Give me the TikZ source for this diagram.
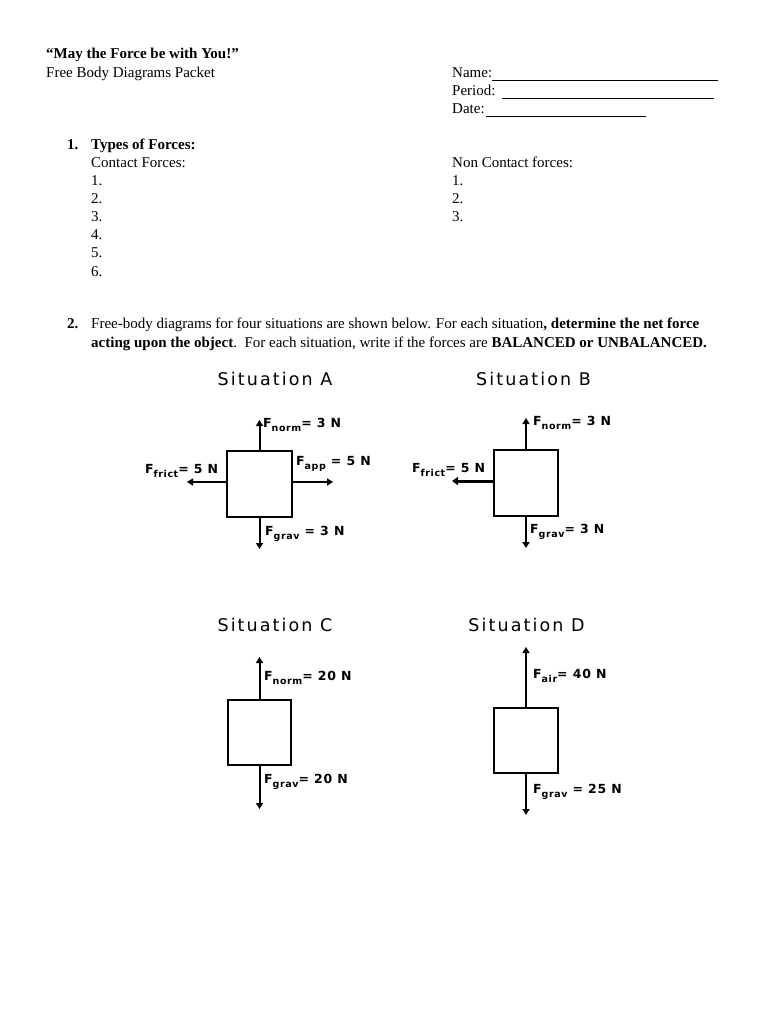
\documentclass[tikz,border=0pt]{standalone}
\usepackage{fontspec}
\setmainfont{Liberation Serif}
\newfontfamily\titlefont[LetterSpace=12]{DejaVu Sans}
\newfontfamily\lblfont[LetterSpace=6]{DejaVu Sans}
\usetikzlibrary{arrows.meta}
\newcommand{\flab}[3]{{\lblfont\bfseries\fontsize{12.5}{13}\selectfont #1\raisebox{-4pt}{\fontsize{9.5}{10}\selectfont #2}#3}}
\tikzset{
  txt/.style={anchor=base west, inner sep=0pt, font=\fontsize{15}{17}\selectfont},
  ttl/.style={inner sep=0pt, font=\titlefont\fontsize{17.5}{19}\selectfont},
  lbl/.style={anchor=base west, inner sep=0pt},
  fbox/.style={draw, line width=2.8pt, inner sep=0pt},
  farrow/.style={line width=2pt, -{Triangle[length=6pt,width=7pt]}},
  farrowthick/.style={line width=3pt, -{Triangle[length=6pt,width=8pt]}},
  uline/.style={line width=0.8pt}
}
\begin{document}
\begin{tikzpicture}[x=1pt,y=-1pt]
\useasboundingbox (0,0) rectangle (768,1024);
\fill[white] (0,0) rectangle (768,1024);
% header
\node[txt] (t1) at (46,59) {\textbf{“May the Force be with You!”}};
\node[txt] (t2) at (46,78) {Free Body Diagrams Packet};
\node[txt] (nm) at (452,78) {Name:};
\node[txt] (pd) at (452,96) {Period:};
\node[txt] (dt) at (452,114) {Date:};
\coordinate (u1a) at (492,80); \coordinate (u1b) at (718,80);
\coordinate (u2a) at (502,98); \coordinate (u2b) at (714,98);
\coordinate (u3a) at (486,116); \coordinate (u3b) at (646,116);
\draw[uline] (u1a) -- (u1b);
\draw[uline] (u2a) -- (u2b);
\draw[uline] (u3a) -- (u3b);
% section 1
\node[txt] (s1n) at (67,150) {\textbf{1.}};
\node[txt] (s1t) at (91,150) {\textbf{Types of Forces:}};
\node[txt] (cf) at (91,168) {Contact Forces:};
\node[txt] (c1) at (91,186) {1.};
\node[txt] (c2) at (91,204) {2.};
\node[txt] (c3) at (91,222) {3.};
\node[txt] (c4) at (91,240) {4.};
\node[txt] (c5) at (91,258) {5.};
\node[txt] (c6) at (91,276) {6.};
\node[txt] (ncf) at (452,168) {Non Contact forces:};
\node[txt] (n1) at (452,186) {1.};
\node[txt] (n2) at (452,204) {2.};
\node[txt] (n3) at (452,222) {3.};
% section 2
\node[txt] (s2n) at (67,328) {\textbf{2.}};
\node[txt] (s2a) at (91,328) {Free-body diagrams for four situations are shown below. For each situation\textbf{, determine the net force}};
\node[txt] (s2b) at (91,347) {\textbf{acting upon the object}.\ \ For each situation, write if the forces are \textbf{BALANCED or UNBALANCED.}};
% Situation A
\node[ttl] (tA) at (275,379) {Situation A};
\node[fbox, minimum width=65pt, minimum height=66pt] (bA) at (259.5,484) {};
\coordinate (aN) at (259.5,420);
\coordinate (aG) at (259.5,549);
\coordinate (aL) at (187,482);
\coordinate (aR) at (333,482);
\draw[farrow] (bA.north) -- (aN);
\draw[farrow] (bA.south) -- (aG);
\draw[farrow] (bA.west |- aL) -- (aL);
\draw[farrow] (bA.east |- aR) -- (aR);
\node[lbl] (lAn) at (263,427) {\flab{F}{norm}{= 3 N}};
\node[lbl] (lAf) at (145,473) {\flab{F}{frict}{= 5 N}};
\node[lbl] (lAa) at (296,465) {\flab{F}{app}{ = 5 N}};
\node[lbl] (lAg) at (265,535) {\flab{F}{grav}{ = 3 N}};
% Situation B
\node[ttl] (tB) at (533.5,379) {Situation B};
\node[fbox, minimum width=64pt, minimum height=66pt] (bB) at (526,483) {};
\coordinate (bN) at (526,418);
\coordinate (bG) at (526,548);
\coordinate (bL) at (452,481);
\draw[farrow] (bB.north) -- (bN);
\draw[farrow] (bB.south) -- (bG);
\draw[farrowthick] (bB.west |- bL) -- (bL);
\node[lbl] (lBn) at (533,425) {\flab{F}{norm}{= 3 N}};
\node[lbl] (lBf) at (412,472) {\flab{F}{frict}{= 5 N}};
\node[lbl] (lBg) at (530,533) {\flab{F}{grav}{= 3 N}};
% Situation C
\node[ttl] (tC) at (275,625) {Situation C};
\node[fbox, minimum width=63pt, minimum height=65pt] (bC) at (259.5,732.5) {};
\coordinate (cN) at (259.5,657);
\coordinate (cG) at (259.5,809);
\draw[farrow] (bC.north) -- (cN);
\draw[farrow] (bC.south) -- (cG);
\node[lbl] (lCn) at (264,680) {\flab{F}{norm}{= 20 N}};
\node[lbl] (lCg) at (264,783) {\flab{F}{grav}{= 20 N}};
% Situation D
\node[ttl] (tD) at (526.5,625) {Situation D};
\node[fbox, minimum width=64pt, minimum height=65pt] (bD) at (526,740.5) {};
\coordinate (dN) at (526,647);
\coordinate (dG) at (526,815);
\draw[farrow] (bD.north) -- (dN);
\draw[farrow] (bD.south) -- (dG);
\node[lbl] (lDa) at (533,678) {\flab{F}{air}{= 40 N}};
\node[lbl] (lDg) at (533,793) {\flab{F}{grav}{ = 25 N}};
\end{tikzpicture}
\end{document}
